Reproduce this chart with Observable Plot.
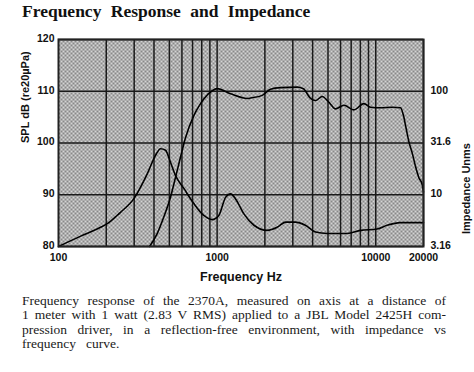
<!DOCTYPE html>
<html><head><meta charset="utf-8">
<script src="https://cdn.jsdelivr.net/npm/d3@7"></script>
<script src="https://cdn.jsdelivr.net/npm/@observablehq/plot@0.6"></script>
<style>
html,body{margin:0;padding:0;background:#fff;width:474px;height:372px;overflow:hidden;}
#title{position:absolute;left:22px;top:0;font:bold 17.5px "Liberation Serif",serif;line-height:22px;word-spacing:5px;color:#111;white-space:nowrap;}
#chart{position:absolute;left:0;top:30px;}
#caption{position:absolute;left:22px;top:294px;width:424px;font:13.5px "Liberation Serif",serif;line-height:14.3px;color:#1a1a1a;}
#caption div{text-align:justify;text-align-last:justify;white-space:nowrap;}
#caption div.last{text-align-last:left;}
#chart svg text{font-weight:bold;}
</style></head><body>
<div id="title">Frequency Response and Impedance</div>
<div id="chart"></div>
<div id="caption">
<div>Frequency response of the 2370A, measured on axis at a distance of</div>
<div>1 meter with 1 watt (2.83 V RMS) applied to a JBL Model 2425H com-</div>
<div>pression driver, in a reflection-free environment, with impedance vs</div>
<div class="last">frequency&ensp; curve.</div>
</div>
<script>
// SPL frequency response (dB re 20 µPa)
const splFreq = [375, 419, 461, 508, 547, 588, 632, 713, 786, 824, 931, 1000, 1216, 1550, 1625, 1925, 2170, 2513, 3200, 3500, 3880, 4170, 4600, 5060, 5580, 6300, 7280, 8420, 9270, 10720, 12700, 14330, 14900, 15500, 16100, 17000, 17800, 18700, 19600, 20000];
const splDb   = [80, 82.5, 85.7, 89.5, 93.4, 97.3, 101, 105.3, 107.6, 108.5, 110.1, 110.5, 109.5, 108.6, 108.7, 109.2, 110.4, 110.7, 110.8, 110.5, 108.6, 108.2, 109, 107.9, 106.6, 107.3, 106.4, 107.6, 106.9, 106.8, 106.9, 106.8, 105.5, 103, 100.5, 98, 95.5, 93.3, 92, 90.5];
// Impedance (ohms)
const impFreq = [100, 138, 184, 203, 234, 246, 298, 362, 409, 440, 473, 508, 547, 617, 713, 824, 931, 1025, 1130, 1216, 1307, 1475, 1707, 2070, 2392, 2700, 3100, 3600, 4170, 4940, 6600, 8020, 10200, 11800, 14300, 20000];
const impOhms = [3.16, 3.98, 4.84, 5.25, 6.3, 6.76, 9.11, 15.8, 24.0, 27.8, 26.9, 20.6, 15.3, 11.5, 8.22, 6.3, 5.75, 6.3, 9.43, 10.2, 9.11, 6.53, 5.07, 4.52, 4.84, 5.43, 5.43, 5.07, 4.36, 4.22, 4.22, 4.52, 4.67, 5.07, 5.37, 5.37];
// axes / grid
const xTicks = [100, 1000, 10000, 20000];
const gridFreqs = [200, 300, 400, 500, 600, 700, 800, 900, 1000, 2000, 3000, 4000, 5000, 6000, 7000, 8000, 9000, 10000, 20000];
const dbTicks = [80, 90, 100, 110, 120];
const ohmTicks = [3.16, 10, 31.6, 100];
const ohmTickLabels = ["3.16", "10", "31.6", "100"];

const toDb = z => 80 + 20 * Math.log10(z / 3.16);
const spl = splFreq.map((f, i) => ({f, v: splDb[i]}));
const imp = impFreq.map((f, i) => ({f, v: toDb(impOhms[i])}));
const ohmTickDb = ohmTicks.map(toDb);

const chart = Plot.plot({
  width: 474, height: 255,
  marginLeft: 58, marginRight: 51, marginTop: 9, marginBottom: 39,
  style: {fontFamily: "Liberation Sans, Arial, sans-serif", fontSize: "10.5px", color: "#111", background: "transparent"},
  x: {type: "log", domain: [100, 20000], label: null},
  y: {domain: [80, 120], label: null},
  marks: [
    Plot.frame({fill: "url(#ht)"}),
    Plot.ruleX(gridFreqs, {stroke: "#1a1a1a", strokeWidth: 1.5}),
    Plot.ruleY(dbTicks, {stroke: "#1a1a1a", strokeWidth: 1.5}),
    Plot.line(imp, {x: "f", y: "v", stroke: "#000", strokeWidth: 1.6, curve: "monotone-x"}),
    Plot.line(spl, {x: "f", y: "v", stroke: "#000", strokeWidth: 1.6, curve: "monotone-x"}),
    Plot.frame({stroke: "#222", strokeWidth: 2}),
    Plot.axisX(xTicks, {tickSize: 0, tickPadding: 7, tickFormat: d => String(d), label: null}),
    Plot.axisY(dbTicks, {anchor: "left", tickSize: 0, tickPadding: 4, label: null, dy: -1}),
    Plot.axisY(ohmTickDb, {anchor: "right", tickSize: 0, tickPadding: 7, label: null, dy: -1,
      tickFormat: d => ohmTickLabels[ohmTickDb.findIndex(t => Math.abs(t - d) < 0.01)]}),
    Plot.text(["SPL dB (re20µPa)"], {text: d => d, frameAnchor: "left", dx: -33, rotate: -90, fontSize: 11}),
    Plot.text(["Impedance Unms"], {text: d => d, frameAnchor: "right", dx: 43, rotate: -90, fontSize: 11}),
    Plot.text(["Frequency Hz"], {text: d => d, frameAnchor: "bottom", dy: 34, fontSize: 12.5})
  ]
});
const ns = "http://www.w3.org/2000/svg";
const defs = document.createElementNS(ns, "defs");
defs.innerHTML = '<pattern id="ht" width="4" height="4" patternUnits="userSpaceOnUse">' +
  '<rect width="4" height="4" fill="#d4d4d4"/><rect width="2" height="2" fill="#888"/>' +
  '<rect x="2" y="2" width="2" height="2" fill="#888"/></pattern>';
chart.insertBefore(defs, chart.firstChild);
document.getElementById("chart").appendChild(chart);
</script>
</body></html>
